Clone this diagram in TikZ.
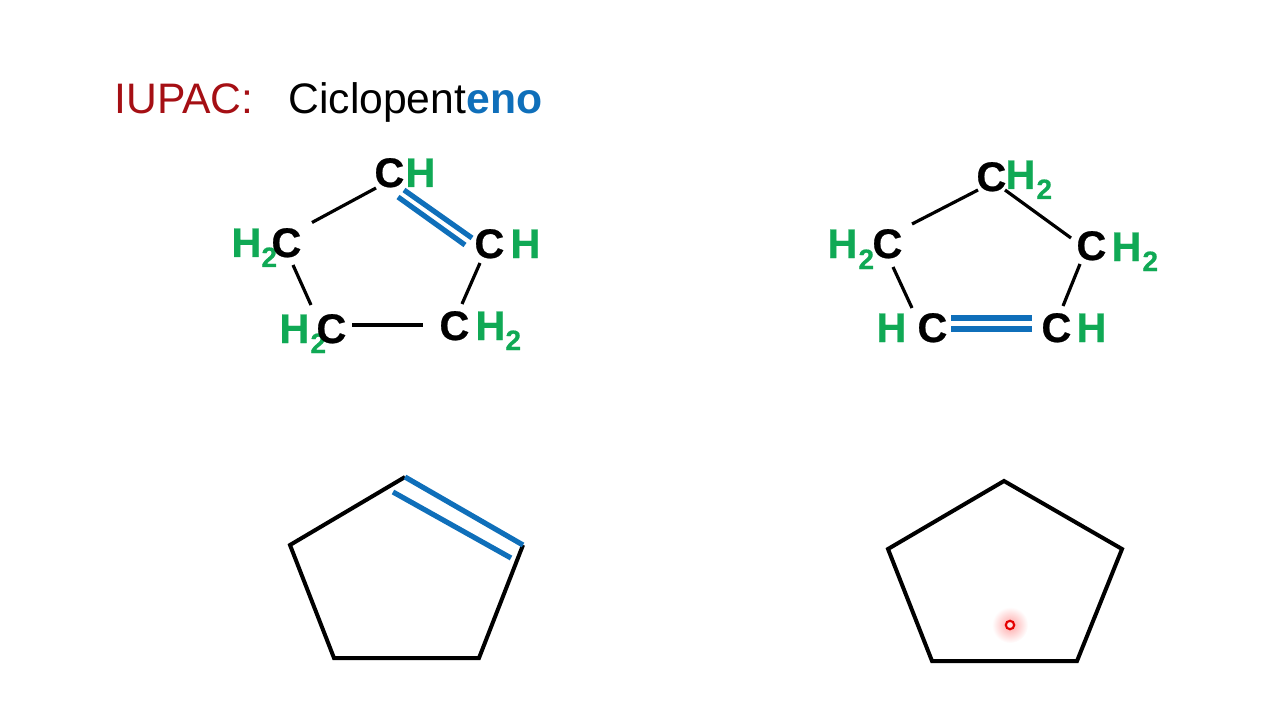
\documentclass[tikz,border=0pt]{standalone}
\usepackage{fontspec}
\setmainfont{Liberation Sans}
\newfontface\heavyface{Liberation Sans Bold}[FakeBold=0.6]
\definecolor{iured}{HTML}{A50F14}
\definecolor{iublue}{HTML}{0F6FBA}
\definecolor{iugreen}{HTML}{10A955}
\usetikzlibrary{shadings}
\tikzset{
  lbl/.style={inner sep=0pt,outer sep=0pt,anchor=base west,xshift=1.1pt},
  cat/.style={lbl,font=\heavyface\fontsize{31}{31}\selectfont,text=black},
  hyd/.style={lbl,font=\heavyface\fontsize{31}{31}\selectfont,text=iugreen},
  sub/.style={lbl,font=\heavyface\fontsize{21}{21}\selectfont,text=iugreen},
  bond/.style={draw=black,line width=2.4pt},
  dbl/.style={draw=iublue,line width=3.9pt},
  ring/.style={draw=black,line width=3pt,line join=miter},
}
\begin{document}
\begin{tikzpicture}[x=0.75pt,y=-0.75pt]
\useasboundingbox (0,0) rectangle (1280,720);
% title
\node[lbl,font=\fontsize{32}{32}\selectfont,text=iured] (iupac) at (113,114) {IUPAC:};
\node[lbl,font=\fontsize{32}{32}\selectfont,text=black] (name) at (287,114) {Ciclopent\textcolor{iublue}{\textbf{eno}}};
% left formula
\node[cat] (a1) at (373,187) {C};
\node[hyd] (a1h) at (404,187) {H};
\node[hyd] (a2h) at (230,257) {H};
\node[sub] (a2s) at (260,267) {2};
\node[cat] (a2) at (270,257) {C};
\node[cat] (a3) at (473,258) {C};
\node[hyd] (a3h) at (509,258) {H};
\node[hyd] (a4h) at (278,343) {H};
\node[sub] (a4s) at (309,353) {2};
\node[cat] (a4) at (315,343) {C};
\node[cat] (a5) at (438,340) {C};
\node[hyd] (a5h) at (474,340) {H};
\node[sub] (a5s) at (504,350) {2};
\coordinate (p1) at (312,222.5); \coordinate (p2) at (376,188);
\coordinate (p3) at (293,265); \coordinate (p4) at (311,305);
\coordinate (p5) at (352,325); \coordinate (p6) at (423,325);
\coordinate (p7) at (480,263); \coordinate (p8) at (462,304);
\coordinate (p9) at (404,190); \coordinate (p10) at (472,238);
\coordinate (p11) at (398,197); \coordinate (p12) at (465,245);
\draw[bond] (p1) -- (p2);
\draw[bond] (p3) -- (p4);
\draw[bond] (p5) -- (p6);
\draw[bond] (p7) -- (p8);
\draw[dbl] (p9) -- (p10);
\draw[dbl] (p11) -- (p12);
% right formula
\node[cat] (b1) at (975,191) {C};
\node[hyd] (b1h) at (1004,189) {H};
\node[sub] (b1s) at (1035,199) {2};
\node[cat] (b2) at (871,258) {C};
\node[hyd] (b2h) at (826,258) {H};
\node[sub] (b2s) at (857,269) {2};
\node[cat] (b3) at (1075,260) {C};
\node[hyd] (b3h) at (1110,261) {H};
\node[sub] (b3s) at (1141,271) {2};
\node[hyd] (b4h) at (875,342) {H};
\node[cat] (b4) at (916,342) {C};
\node[cat] (b5) at (1040,342) {C};
\node[hyd] (b5h) at (1075,342) {H};
\coordinate (q1) at (912,224); \coordinate (q2) at (978,190);
\coordinate (q3) at (1005,190); \coordinate (q4) at (1071,238);
\coordinate (q5) at (893,267); \coordinate (q6) at (912,308);
\coordinate (q7) at (1080,264); \coordinate (q8) at (1063,306);
\coordinate (q9) at (951,318); \coordinate (q10) at (1032,318);
\coordinate (q11) at (951,329); \coordinate (q12) at (1032,329);
\draw[bond] (q1) -- (q2);
\draw[bond] (q3) -- (q4);
\draw[bond] (q5) -- (q6);
\draw[bond] (q7) -- (q8);
\draw[dbl] (q9) -- (q10);
\draw[dbl] (q11) -- (q12);
% left skeletal ring
\coordinate (r1) at (405,477); \coordinate (r2) at (523,545);
\coordinate (r3) at (479,658); \coordinate (r4) at (334,658);
\coordinate (r5) at (290,545);
\coordinate (r6) at (393,492); \coordinate (r7) at (511,558);
\draw[ring] (r1) -- (r5) -- (r4) -- (r3) -- (r2);
\draw[dbl] (r1) -- (r2);
\draw[dbl] (r6) -- (r7);
% right skeletal ring
\coordinate (s1) at (1004,481); \coordinate (s2) at (1122,549);
\coordinate (s3) at (1077,661); \coordinate (s4) at (932,661);
\coordinate (s5) at (888,549);
\draw[ring] (s1) -- (s2) -- (s3) -- (s4) -- (s5) -- cycle;
% pointer
\coordinate (dot) at (1010,625);
\shade[inner color=red!35,outer color=white] (dot) circle (18);
\draw[draw=red!90!black,line width=1.6pt,fill=red!12] (dot) circle (4.2);
\end{tikzpicture}
\end{document}
